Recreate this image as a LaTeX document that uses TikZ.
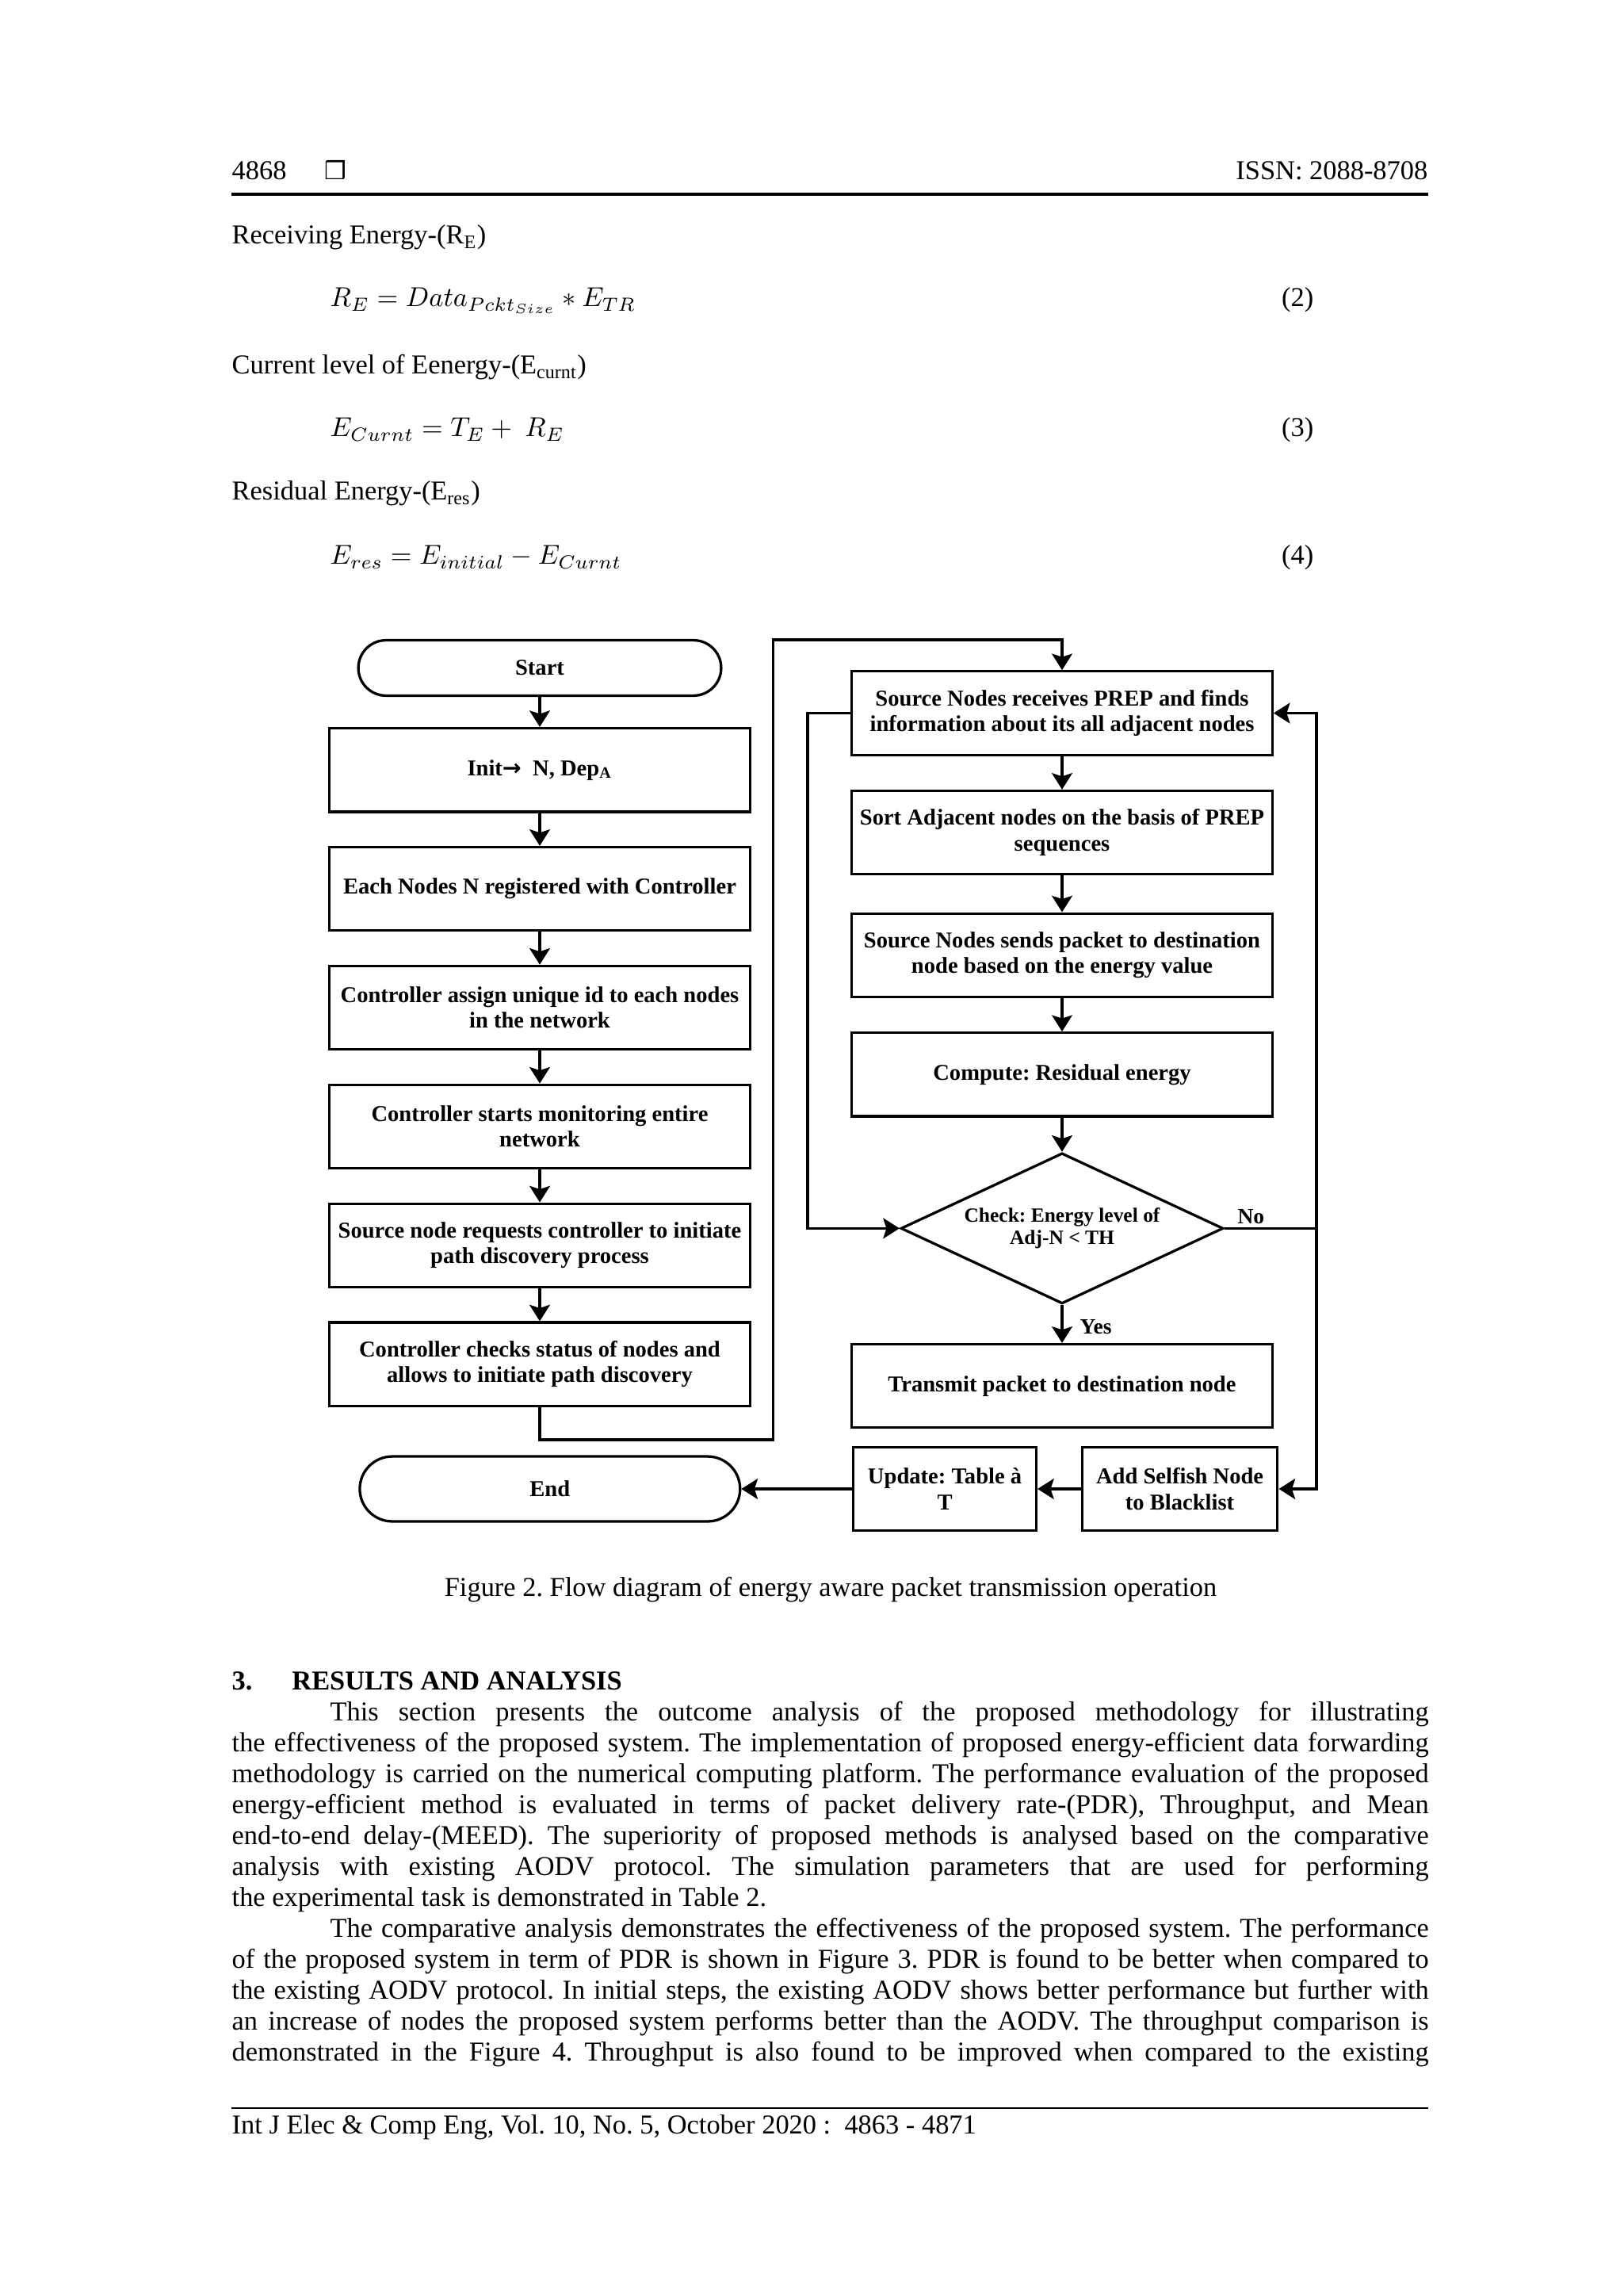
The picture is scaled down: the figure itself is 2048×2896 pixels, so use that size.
\documentclass[tikz,border=0pt]{standalone}
\usepackage{fontspec}
\setmainfont{Liberation Serif}
\newfontfamily\dingfont{DejaVu Sans}
\usetikzlibrary{positioning, arrows.meta, shapes.geometric}
\frenchspacing

\begin{document}
\begin{tikzpicture}[
    x=0.29053pt, y=-0.29053pt,
    font=\fontsize{10}{11.35}\selectfont,
    inner sep=0pt,
    node distance=12pt,
    >={Stealth[length=6pt, width=7.5pt, inset=1.2pt]},
    box/.style={draw, line width=0.95pt, minimum width=154.1pt, minimum height=30.6pt,
                inner sep=2pt, align=center, font=\fontsize{8.3}{9.4}\selectfont\bfseries},
    term/.style={draw, line width=0.95pt, font=\fontsize{8.3}{9.4}\selectfont\bfseries},
    decide/.style={draw, diamond, aspect=2.12, line width=0.95pt, minimum width=118.2pt,
                   minimum height=55.2pt, align=center, font=\fontsize{7.4}{8.2}\selectfont\bfseries},
    lbl/.style={font=\fontsize{8}{9}\selectfont\bfseries},
    flow/.style={line width=0.95pt, ->}
]
    \useasboundingbox (0,0) rectangle (2048,2896);
    \fill[white] (0,0) rectangle (2048,2896);

    % page head
    \node[anchor=base west] (pgno) at (292,226.5) {4868};
    \node[anchor=base west, font=\dingfont\fontsize{9}{9}\selectfont] (mark) at (409,226.5) {❒};
    \node[anchor=base east] (issn) at (1802,226.5) {ISSN: 2088-8708};
    \draw[line width=0.9pt] (292,245) -- (1802,245);

    % equations
    \node[anchor=base west] (recv) at (292,308) {Receiving Energy-(R\textsubscript{E})};
    \node[anchor=base west] (eqtwo) at (416,387) {$R_E = Data_{Pckt_{Size}} * E_{TR}$};
    \node[anchor=base east] (ntwo) at (1658,387) {(2)};
    \node[anchor=base west] (curr) at (292,472) {Current level of Eenergy-(E\textsubscript{curnt})};
    \node[anchor=base west] (eqthree) at (416,551) {$E_{Curnt} = T_E + \ R_E$};
    \node[anchor=base east] (nthree) at (1658,551) {(3)};
    \node[anchor=base west] (resid) at (292,631) {Residual Energy-(E\textsubscript{res})};
    \node[anchor=base west] (eqfour) at (416,712) {$E_{res} = E_{initial} - E_{Curnt}$};
    \node[anchor=base east] (nfour) at (1658,712) {(4)};

    % left column
    \node[term, minimum width=133pt, minimum height=20.3pt, rounded corners=10.15pt] (start) at (681,842.5) {Start};
    \node[box, below=11pt of start] (init) {Init{\dingfont\bfseries →}\ \ N, Dep\textsubscript{A}};
    \node[box, below=of init] (reg) {Each Nodes N registered with Controller};
    \node[box, below=of reg] (assign) {Controller assign unique id to each nodes\\in the network};
    \node[box, below=of assign] (monitor) {Controller starts monitoring entire\\network};
    \node[box, below=of monitor] (request) {Source node requests controller to initiate\\path discovery process};
    \node[box, below=of request] (check) {Controller checks status of nodes and\\allows to initiate path discovery};

    % right column
    \node[box] (prep) at (1340,899.5) {Source Nodes receives PREP and finds\\information about its all adjacent nodes};
    \node[box, below=12.2pt of prep] (sort) {Sort Adjacent nodes on the basis of PREP\\sequences};
    \node[box, below=13.4pt of sort] (send) {Source Nodes sends packet to destination\\node based on the energy value};
    \node[box, below=12.2pt of send] (comp) {Compute: Residual energy};
    \node[decide, below=12.5pt of comp] (test) {Check: Energy level of\\Adj-N < TH};
    \node[box, below=13.9pt of test] (trans) {Transmit packet to destination node};

    % bottom row
    \node[box, minimum width=71.6pt] (black) at (1488.6,1878) {Add Selfish Node\\to Blacklist};
    \node[box, minimum width=67pt, left=15.9pt of black] (upd) {Update: Table à\\T};
    \node[term, minimum width=139.4pt, minimum height=23.8pt, rounded corners=11.9pt, left=40.6pt of upd] (stop) {End};

    \node[lbl, anchor=base west] (no) at ([xshift=4.6pt, yshift=1.7pt]test.east) {No};
    \node[lbl, anchor=base west] (yes) at ([xshift=6.4pt, yshift=-10.7pt]test.south) {Yes};

    \coordinate (jbot) at (975.5,1816);
    \coordinate (jtop) at (975.5,807);
    \coordinate (lx) at (1019,0);
    \coordinate (rx) at (1661,0);

    \draw[flow] (start) -- (init);
    \draw[flow] (init) -- (reg);
    \draw[flow] (reg) -- (assign);
    \draw[flow] (assign) -- (monitor);
    \draw[flow] (monitor) -- (request);
    \draw[flow] (request) -- (check);
    \draw[flow] (check.south) |- (jbot) -- (jtop) -| (prep.north);
    \draw[flow] (prep) -- (sort);
    \draw[flow] (sort) -- (send);
    \draw[flow] (send) -- (comp);
    \draw[flow] (comp) -- (test);
    \draw[flow] (test) -- (trans);
    \draw[flow] (prep.west) -- (prep.west -| lx) |- (test.west);
    \draw[flow] (test.east) -- (test.east -| rx) |- (prep.east);
    \draw[flow] (test.east -| rx) |- (black.east);
    \draw[flow] (black) -- (upd);
    \draw[flow] (upd) -- (stop);

    \node[anchor=base] (cap) at (1048,2013) {Figure 2. Flow diagram of energy aware packet transmission operation};

    % body text
    \node[anchor=base west, text width=438.7pt, align=justify] (body) at (292,2131) {%
        \hyphenpenalty=10000 \exhyphenpenalty=10000
        \textbf{\makebox[22pt][l]{3.}RESULTS AND ANALYSIS}\\
        \hspace*{36pt}This section presents the outcome analysis of the proposed methodology for illustrating\linebreak
        the effectiveness of the proposed system. The implementation of proposed energy-efficient data forwarding\linebreak
        methodology is carried on the numerical computing platform. The performance evaluation of the proposed\linebreak
        energy-efficient method is evaluated in terms of packet delivery rate-(PDR), Throughput, and Mean\linebreak
        end-to-end delay-(MEED). The superiority of proposed methods is analysed based on the comparative\linebreak
        analysis with existing AODV protocol. The simulation parameters that are used for performing\linebreak
        the experimental task is demonstrated in Table 2.\par
        \hspace*{36pt}The comparative analysis demonstrates the effectiveness of the proposed system. The performance\linebreak
        of the proposed system in term of PDR is shown in Figure 3. PDR is found to be better when compared to\linebreak
        the existing AODV protocol. In initial steps, the existing AODV shows better performance but further with\linebreak
        an increase of nodes the proposed system performs better than the AODV. The throughput comparison is\linebreak
        demonstrated in the Figure 4. Throughput is also found to be improved when compared to the existing\parfillskip=0pt\par};

    % page foot
    \draw[line width=0.8pt] (292,2659) -- (1802,2659);
    \node[anchor=base west] (foot) at (292,2691.7) {Int J Elec \& Comp Eng, Vol. 10, No. 5, October 2020 :\ \ 4863 - 4871};
\end{tikzpicture}
\end{document}
